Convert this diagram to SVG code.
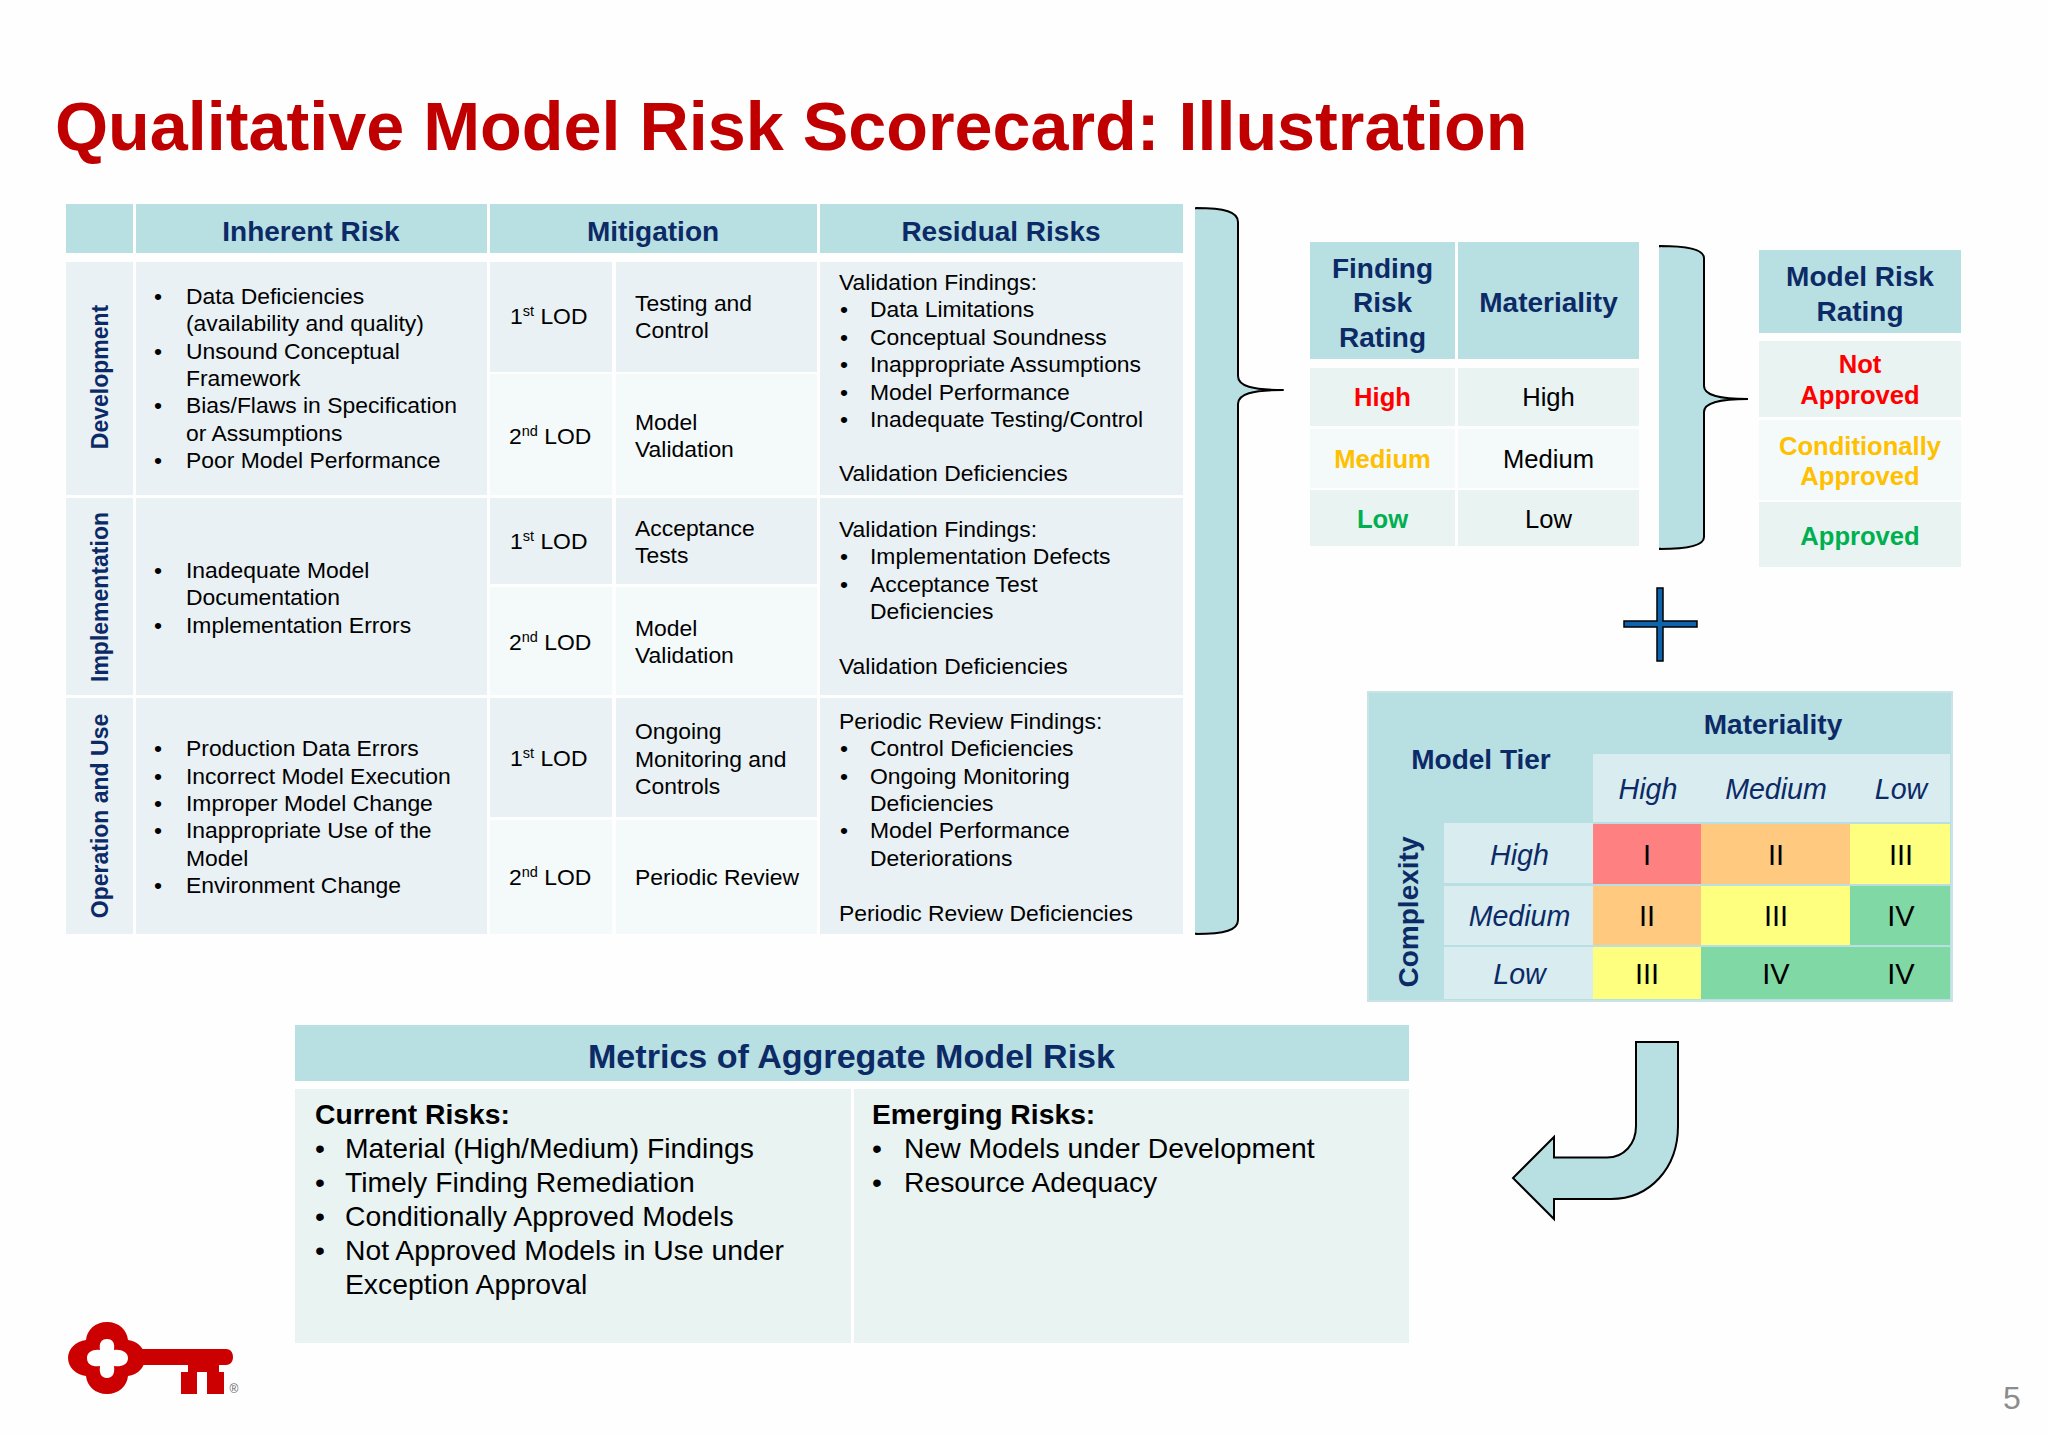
<svg xmlns="http://www.w3.org/2000/svg" width="2048" height="1434" viewBox="0 0 2048 1434">
<style>
text{font-family:"Liberation Sans",Arial,sans-serif;fill:#000}
.t{font-size:22.9px}
.h{font-size:28px;font-weight:700;fill:#0b2a66;text-anchor:middle}
.v{font-size:23px;font-weight:700;fill:#0b2a66;text-anchor:middle}
.b{font-size:25.600px;text-anchor:middle}
.bb{font-size:25.600px;font-weight:700;text-anchor:middle}
.r{fill:#ff0000}.y{fill:#ffc000}.g{fill:#00b050}
.i{font-size:28.600px;font-style:italic;fill:#0b2a66;text-anchor:middle}
.n{font-size:29px;text-anchor:middle}
.m{font-size:28.300px}
.hd{fill:#b8dfe2}.a{fill:#e9f1f4}.l{fill:#f4f9fa}.e{fill:#e9f3f2}.p{fill:#d9ecf0}
.sup{font-size:14.500px}
.br{fill:#b8dfe2;stroke:#000;stroke-width:2}
</style>
<rect width="2048" height="1434" fill="#fefefe"/>
<text id="title" x="55" y="150" font-size="68.300" font-weight="700" style="fill:#c00000">Qualitative Model Risk Scorecard: Illustration</text>

<g id="risk-table">
<rect class="hd" x="66" y="204" width="67" height="49"/><rect class="hd" x="136" y="204" width="351" height="49"/><rect class="hd" x="490" y="204" width="327" height="49"/><rect class="hd" x="820" y="204" width="363" height="49"/>
<rect class="a" x="66" y="262" width="67" height="233"/><rect class="a" x="136" y="262" width="351" height="233"/>
<rect class="a" x="490" y="262" width="122" height="110"/><rect class="a" x="616" y="262" width="201" height="110"/>
<rect class="l" x="490" y="374" width="122" height="121"/><rect class="l" x="616" y="374" width="201" height="121"/>
<rect class="a" x="820" y="262" width="363" height="233"/>
<rect class="a" x="66" y="498" width="67" height="197"/><rect class="a" x="136" y="498" width="351" height="197"/>
<rect class="a" x="490" y="498" width="122" height="86"/><rect class="a" x="616" y="498" width="201" height="86"/>
<rect class="l" x="490" y="587" width="122" height="108"/><rect class="l" x="616" y="587" width="201" height="108"/>
<rect class="a" x="820" y="498" width="363" height="197"/>
<rect class="a" x="66" y="698" width="67" height="236"/><rect class="a" x="136" y="698" width="351" height="236"/>
<rect class="a" x="490" y="698" width="122" height="119"/><rect class="a" x="616" y="698" width="201" height="119"/>
<rect class="l" x="490" y="820" width="122" height="114"/><rect class="l" x="616" y="820" width="201" height="114"/>
<rect class="a" x="820" y="698" width="363" height="236"/>
<text class="h" x="311" y="241">Inherent Risk</text><text class="h" x="653" y="241">Mitigation</text><text class="h" x="1001" y="241">Residual Risks</text>
<text class="v" transform="translate(108 377) rotate(-90)">Development</text>
<text class="v" transform="translate(108 597) rotate(-90)">Implementation</text>
<text class="v" transform="translate(108 816) rotate(-90)">Operation and Use</text>
<g>
<text class="t" x="154" y="304">•</text><text class="t" x="186" y="304">Data Deficiencies</text>
<text class="t" x="186" y="331">(availability and quality)</text>
<text class="t" x="154" y="359">•</text><text class="t" x="186" y="359">Unsound Conceptual</text>
<text class="t" x="186" y="386">Framework</text>
<text class="t" x="154" y="413">•</text><text class="t" x="186" y="413">Bias/Flaws in Specification</text>
<text class="t" x="186" y="441">or Assumptions</text>
<text class="t" x="154" y="468">•</text><text class="t" x="186" y="468">Poor Model Performance</text>
<text class="t" x="154" y="578">•</text><text class="t" x="186" y="578">Inadequate Model</text>
<text class="t" x="186" y="605">Documentation</text>
<text class="t" x="154" y="633">•</text><text class="t" x="186" y="633">Implementation Errors</text>
<text class="t" x="154" y="756">•</text><text class="t" x="186" y="756">Production Data Errors</text>
<text class="t" x="154" y="784">•</text><text class="t" x="186" y="784">Incorrect Model Execution</text>
<text class="t" x="154" y="811">•</text><text class="t" x="186" y="811">Improper Model Change</text>
<text class="t" x="154" y="838">•</text><text class="t" x="186" y="838">Inappropriate Use of the</text>
<text class="t" x="186" y="866">Model</text>
<text class="t" x="154" y="893">•</text><text class="t" x="186" y="893">Environment Change</text>

<text class="t" x="510" y="324">1<tspan class="sup" dy="-8">st</tspan><tspan dy="8"> LOD</tspan></text>
<text class="t" x="509" y="444">2<tspan class="sup" dy="-8">nd</tspan><tspan dy="8"> LOD</tspan></text>
<text class="t" x="510" y="549">1<tspan class="sup" dy="-8">st</tspan><tspan dy="8"> LOD</tspan></text>
<text class="t" x="509" y="650">2<tspan class="sup" dy="-8">nd</tspan><tspan dy="8"> LOD</tspan></text>
<text class="t" x="510" y="766">1<tspan class="sup" dy="-8">st</tspan><tspan dy="8"> LOD</tspan></text>
<text class="t" x="509" y="885">2<tspan class="sup" dy="-8">nd</tspan><tspan dy="8"> LOD</tspan></text>

<text class="t" x="635" y="311">Testing and</text><text class="t" x="635" y="338">Control</text>
<text class="t" x="635" y="430">Model</text><text class="t" x="635" y="457">Validation</text>
<text class="t" x="635" y="536">Acceptance</text><text class="t" x="635" y="563">Tests</text>
<text class="t" x="635" y="636">Model</text><text class="t" x="635" y="663">Validation</text>
<text class="t" x="635" y="739">Ongoing</text><text class="t" x="635" y="767">Monitoring and</text><text class="t" x="635" y="794">Controls</text>
<text class="t" x="635" y="885">Periodic Review</text>

<text class="t" x="839" y="290">Validation Findings:</text>
<text class="t" x="840" y="317">•</text><text class="t" x="870" y="317">Data Limitations</text>
<text class="t" x="840" y="345">•</text><text class="t" x="870" y="345">Conceptual Soundness</text>
<text class="t" x="840" y="372">•</text><text class="t" x="870" y="372">Inappropriate Assumptions</text>
<text class="t" x="840" y="400">•</text><text class="t" x="870" y="400">Model Performance</text>
<text class="t" x="840" y="427">•</text><text class="t" x="870" y="427">Inadequate Testing/Control</text>
<text class="t" x="839" y="481">Validation Deficiencies</text>
<text class="t" x="839" y="537">Validation Findings:</text>
<text class="t" x="840" y="564">•</text><text class="t" x="870" y="564">Implementation Defects</text>
<text class="t" x="840" y="592">•</text><text class="t" x="870" y="592">Acceptance Test</text>
<text class="t" x="870" y="619">Deficiencies</text>
<text class="t" x="839" y="674">Validation Deficiencies</text>
<text class="t" x="839" y="729">Periodic Review Findings:</text>
<text class="t" x="840" y="756">•</text><text class="t" x="870" y="756">Control Deficiencies</text>
<text class="t" x="840" y="784">•</text><text class="t" x="870" y="784">Ongoing Monitoring</text>
<text class="t" x="870" y="811">Deficiencies</text>
<text class="t" x="840" y="838">•</text><text class="t" x="870" y="838">Model Performance</text>
<text class="t" x="870" y="866">Deteriorations</text>
<text class="t" x="839" y="921">Periodic Review Deficiencies</text>
</g>
</g>

<g id="connectors">
<path id="brace-1" class="br" d="M1196 208C1225 208 1238 212 1238 222V376C1238 386 1252 390 1283 390C1252 390 1238 394 1238 404V920C1238 930 1225 934 1196 934Z" stroke-linejoin="round"/>
<path fill="#b8dfe2" d="M1195 209.200H1197.500V932.800H1195Z"/>
<path id="brace-2" class="br" d="M1660 246C1690 246 1704 250 1704 258V386C1704 395 1718 399 1748 399C1718 399 1704 403 1704 412V537C1704 545 1690 549 1660 549Z"/>
<path fill="#b8dfe2" d="M1659 247.200H1662V547.800H1659Z"/>
<path id="down-arrow" fill="#b8dfe2" stroke="#000" stroke-width="2" d="M1636 1042H1678V1126C1678 1168 1650 1199 1611 1199H1554V1219L1513 1178L1554 1137V1157.500H1607C1624 1157.500 1636 1144 1636 1126Z"/>
</g>

<g id="finding-table">
<rect class="hd" x="1310" y="242" width="145" height="117"/><rect class="hd" x="1458" y="242" width="181" height="117"/>
<rect class="e" x="1310" y="368" width="145" height="58"/><rect class="e" x="1458" y="368" width="181" height="58"/>
<rect class="l" x="1310" y="429" width="145" height="59"/><rect class="l" x="1458" y="429" width="181" height="59"/>
<rect class="e" x="1310" y="490" width="145" height="56"/><rect class="e" x="1458" y="490" width="181" height="56"/>
<text class="h" x="1382.500" y="278">Finding</text><text class="h" x="1382.500" y="312">Risk</text><text class="h" x="1382.500" y="347">Rating</text>
<text class="h" x="1548.500" y="312">Materiality</text>
<text class="bb r" x="1382.500" y="406">High</text><text class="b" x="1548.500" y="406">High</text>
<text class="bb y" x="1382.500" y="468">Medium</text><text class="b" x="1548.500" y="468">Medium</text>
<text class="bb g" x="1382.500" y="528">Low</text><text class="b" x="1548.500" y="528">Low</text>
</g>

<g id="model-rating">
<rect class="hd" x="1759" y="250" width="202" height="83"/>
<rect class="e" x="1759" y="341" width="202" height="76"/><rect class="l" x="1759" y="420" width="202" height="80"/><rect class="e" x="1759" y="502" width="202" height="65"/>
<text class="h" x="1860" y="286">Model Risk</text><text class="h" x="1860" y="321">Rating</text>
<text class="bb r" x="1860" y="373">Not</text><text class="bb r" x="1860" y="404">Approved</text>
<text class="bb y" x="1860" y="455">Conditionally</text><text class="bb y" x="1860" y="485">Approved</text>
<text class="bb g" x="1860" y="545">Approved</text>
</g>

<g id="plus"><path fill="#0f62ac" stroke="#000" stroke-width="1.500" d="M1657 588H1663V621H1697V627H1663V661H1657V627H1624V621H1657Z"/></g>

<g id="tier-matrix">
<rect class="hd" x="1368" y="692" width="584" height="309" stroke="#c9e3e6" stroke-width="2"/>
<rect class="p" x="1593" y="754" width="357" height="68"/>
<rect class="p" x="1444" y="823" width="149" height="60"/><rect class="p" x="1444" y="886" width="149" height="59"/><rect class="p" x="1444" y="947" width="149" height="52"/>
<rect fill="#ff8080" x="1593" y="824" width="108" height="60"/><rect fill="#ffc97f" x="1701" y="824" width="149" height="60"/><rect fill="#ffff7f" x="1850" y="824" width="100" height="60"/>
<rect fill="#ffc97f" x="1593" y="886" width="108" height="59"/><rect fill="#ffff7f" x="1701" y="886" width="149" height="59"/><rect fill="#80d8a5" x="1850" y="886" width="100" height="59"/>
<rect fill="#ffff7f" x="1593" y="947" width="108" height="52"/><rect fill="#80d8a5" x="1701" y="947" width="249" height="52"/>
<text class="h" x="1481" y="769">Model Tier</text><text class="h" x="1773" y="734">Materiality</text>
<text class="i" x="1648" y="799">High</text><text class="i" x="1776" y="799">Medium</text><text class="i" x="1901" y="799">Low</text>
<text class="i" x="1519.500" y="865">High</text><text class="i" x="1519.500" y="926">Medium</text><text class="i" x="1519.500" y="984">Low</text>
<text class="n" x="1647" y="865">I</text><text class="n" x="1776" y="865">II</text><text class="n" x="1901" y="865">III</text>
<text class="n" x="1647" y="926">II</text><text class="n" x="1776" y="926">III</text><text class="n" x="1901" y="926">IV</text>
<text class="n" x="1647" y="984">III</text><text class="n" x="1776" y="984">IV</text><text class="n" x="1901" y="984">IV</text>
<text class="h" transform="translate(1418 912) rotate(-90)">Complexity</text>
</g>

<g id="metrics">
<rect class="hd" x="295" y="1025" width="1114" height="56"/>
<rect class="e" x="295" y="1089" width="556" height="254"/><rect class="e" x="854" y="1089" width="555" height="254"/>
<text class="h" x="851.500" y="1068" style="font-size:34.100px">Metrics of Aggregate Model Risk</text>
<text class="m" x="315" y="1124" font-weight="700">Current Risks:</text>
<text class="m" x="315" y="1158">•</text><text class="m" x="345" y="1158">Material (High/Medium) Findings</text>
<text class="m" x="315" y="1192">•</text><text class="m" x="345" y="1192">Timely Finding Remediation</text>
<text class="m" x="315" y="1226">•</text><text class="m" x="345" y="1226">Conditionally Approved Models</text>
<text class="m" x="315" y="1260">•</text><text class="m" x="345" y="1260">Not Approved Models in Use under</text>
<text class="m" x="345" y="1294">Exception Approval</text>
<text class="m" x="872" y="1124" font-weight="700">Emerging Risks:</text>
<text class="m" x="872" y="1158">•</text><text class="m" x="904" y="1158">New Models under Development</text>
<text class="m" x="872" y="1192">•</text><text class="m" x="904" y="1192">Resource Adequacy</text>
</g>

<g id="logo">
<path fill="#cc0000" fill-rule="evenodd" d="M107 1322C119 1322 127 1330 128 1340C138 1341 145 1349 145 1358C145 1367 138 1375 128 1376C127 1386 119 1394 107 1394C95 1394 87 1386 86 1376C76 1375 68 1367 68 1358C68 1349 76 1341 86 1340C87 1330 95 1322 107 1322ZM107 1339C101 1339 99 1343 100 1350C93 1349 87 1352 87 1358C87 1365 93 1367 100 1366C99 1373 101 1378 107 1378C113 1378 115 1373 114 1366C121 1367 128 1365 128 1358C128 1352 121 1349 114 1350C115 1343 113 1339 107 1339Z"/>
<path fill="#cc0000" d="M142 1349H226C231 1349 233 1353 233 1357C233 1361 231 1365 226 1365H219V1372H224V1394H207V1372H197V1394H181V1372H188V1365H142Z"/>
<text x="234" y="1393" font-size="12" text-anchor="middle" style="fill:#666">®</text>
</g>
<text id="page-number" x="2012" y="1409" font-size="32" text-anchor="middle" style="fill:#8c8c8c">5</text>
</svg>
